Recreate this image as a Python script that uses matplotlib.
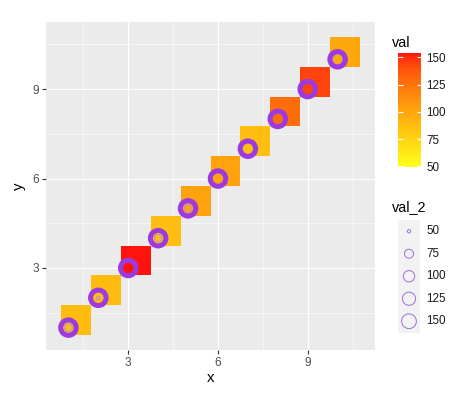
import numpy as np
import matplotlib
matplotlib.use("Agg")
import matplotlib.pyplot as plt
from matplotlib.colors import LinearSegmentedColormap, Normalize
from matplotlib.cm import ScalarMappable

plt.rcParams['font.family'] = ['Liberation Sans', 'DejaVu Sans']

# data
xs = [1, 2, 3, 4, 5, 6, 7, 8, 9, 10]
ys = [1, 2, 3, 4, 5, 6, 7, 8, 9, 10]
val = [88, 88, 154, 87, 102, 102, 87, 128, 144, 99]
val_2 = [65, 50, 150, 62, 66, 110, 100, 120, 140, 90]

val_ticks = [50, 75, 100, 125, 150]
val_lims = (49.5, 154)
size_breaks = [50, 75, 100, 125, 150]
size_lims = (50, 150)
xy_ticks = [3, 6, 9]


def srgb_to_lab(c):
    c = np.asarray(c, float)
    lin = np.where(c <= 0.04045, c / 12.92, ((c + 0.055) / 1.055) ** 2.4)
    m = np.array([[0.4124, 0.3576, 0.1805],
                  [0.2126, 0.7152, 0.0722],
                  [0.0193, 0.1192, 0.9505]])
    xyz = m @ lin / np.array([0.95047, 1.0, 1.08883])
    f = np.where(xyz > 0.008856, np.cbrt(xyz), 7.787 * xyz + 16 / 116)
    return np.array([116 * f[1] - 16, 500 * (f[0] - f[1]), 200 * (f[1] - f[2])])


def lab_to_srgb(lab):
    fy = (lab[0] + 16) / 116
    f = np.array([fy + lab[1] / 500, fy, fy - lab[2] / 200])
    xyz = np.where(f > 0.2069, f ** 3, (f - 16 / 116) / 7.787) * np.array([0.95047, 1.0, 1.08883])
    m = np.array([[3.2406, -1.5372, -0.4986],
                  [-0.9689, 1.8758, 0.0415],
                  [0.0557, -0.2040, 1.0570]])
    lin = np.clip(m @ xyz, 0, 1)
    return np.where(lin <= 0.0031308, 12.92 * lin, 1.055 * lin ** (1 / 2.4) - 0.055)


# yellow -> red gradient interpolated in Lab like ggplot
lab_lo, lab_hi = srgb_to_lab([1, 1, 0.1]), srgb_to_lab([1, 0.08, 0.05])
grad = [lab_to_srgb(lab_lo + t * (lab_hi - lab_lo)) for t in np.linspace(0, 1, 64)]
cmap = LinearSegmentedColormap.from_list('yr', grad)
norm = Normalize(*val_lims)


def ring_px(v):
    # area-like size scale for val_2 (diameter in pixels)
    t = (np.asarray(v, float) - size_lims[0]) / (size_lims[1] - size_lims[0])
    return 3.3 + 11.4 * np.sqrt(np.clip(t, 0, 1))


W, H = 474, 395
fig = plt.figure(figsize=(W / 100, H / 100), dpi=100)
px = 0.72  # points per pixel

ax = fig.add_axes([46 / W, 1 - 350 / H, (375 - 46) / W, (350 - 22) / H])
ax.set_facecolor('#EBEBEB')
for s in ax.spines.values():
    s.set_visible(False)

xarr = np.array(xs)
yarr = np.array(ys)
ax.bar(xarr + 0.25, 1.0, bottom=yarr - 0.25, width=1.0, color=cmap(norm(val)), zorder=2)

# thin rings sized by val_2 (under the thick ring)
ax.scatter(xarr, yarr, s=(ring_px(val_2) * px) ** 2, facecolors='none',
           edgecolors='#B58AEA', linewidths=1 * px, zorder=3)
# thick purple rings
ax.scatter(xarr, yarr, s=(15.5 * px) ** 2, facecolors='none',
           edgecolors='#9C3AE0', linewidths=5 * px, zorder=4)

ax.set_xlim(0.25, 11.25)
ax.set_ylim(0.25, 11.25)
ax.set_xticks(xy_ticks)
ax.set_yticks(xy_ticks)
ax.set_xticks([1.5, 4.5, 7.5, 10.5], minor=True)
ax.set_yticks([1.5, 4.5, 7.5, 10.5], minor=True)
ax.grid(which='major', color='white', linewidth=1.1 * px)
ax.grid(which='minor', color='white', linewidth=0.55 * px)
ax.set_axisbelow(True)
ax.tick_params(which='major', length=3.8 * px, width=0.8, color='#333333',
               labelsize=8.6, labelcolor='#4D4D4D', pad=2)
ax.tick_params(which='minor', length=0)
ax.set_xlabel('x', fontsize=10.8, labelpad=2)
ax.set_ylabel('y', fontsize=10.8, labelpad=5)

# colour bar for val
cax = fig.add_axes([398 / W, 1 - 167 / H, 23 / W, 114 / H])
cb = fig.colorbar(ScalarMappable(norm=norm, cmap=cmap), cax=cax, ticks=val_ticks)
cb.outline.set_visible(False)
cax.tick_params(direction='in', color='white', length=4.5 * px, width=0.8,
                left=True, right=True, labelleft=False, labelright=True,
                labelsize=8.4, labelcolor='#1A1A1A', pad=4)
fig.text(392 / W, 1 - 43 / H, 'val', fontsize=10.4, va='center', ha='left')

# size legend for val_2
fig.text(392 / W, 1 - 207 / H, 'val_2', fontsize=10.4, va='center', ha='left')
lax = fig.add_axes([0, 0, 1, 1], facecolor='none')
lax.set_xlim(0, W)
lax.set_ylim(H, 0)
lax.axis('off')
key_top = 220
key_h = 22.5
for i, b in enumerate(size_breaks):
    cy = key_top + key_h * (i + 0.5)
    lax.add_patch(plt.Rectangle((398, key_top + key_h * i), 22, key_h,
                                facecolor='#F2F2F2', edgecolor='none'))
    lax.scatter([409], [cy], s=(ring_px(b) * px) ** 2, facecolors='none',
                edgecolors='#A070E0', linewidths=1 * px)
    lax.text(426, cy, str(b), fontsize=8.4, color='#1A1A1A', va='center', ha='left')

fig.savefig('out.png', dpi=100)
